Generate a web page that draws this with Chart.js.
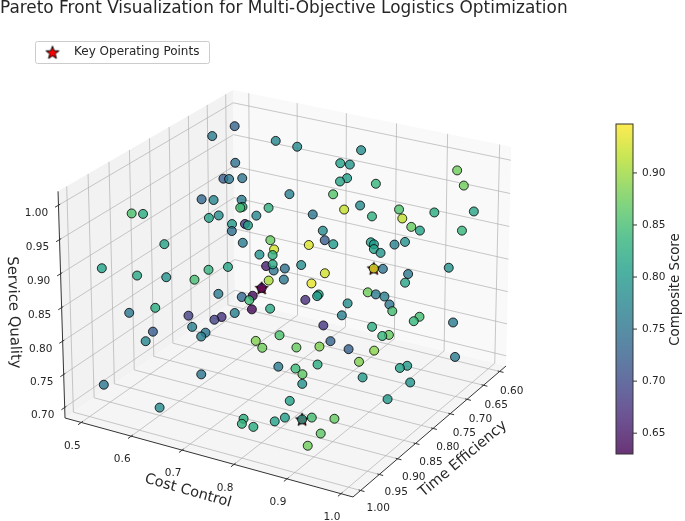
<!DOCTYPE html>
<html>
<head>
<meta charset="utf-8">
<style>html,body{margin:0;padding:0;background:#fff}canvas{display:block}</style>
<script src="https://cdn.jsdelivr.net/npm/chart.js@4"></script>
</head>
<body>
<canvas id="c" width="685" height="521"></canvas>
<script>
const timeEff = [.639,.694,.644,.646,.697,.743,.732,.714,.721,.809,.791,.745,.756,.758,.749,.939,.925,.824,.804,.763,.793,.780,.780,.804,.798,.793,.899,.798,.798,.798,.798,.798,.798,.798,.798,.976,.815,.842,.934,.897,.859,.798,.798,.829,.798,.798,.798,.811,.804,.822,.833,.840,.867,.743,.727,.763,.776,.778,.787,.798,.798,.798,.798,.798,.798,.798,.809,.628,.657,.657,.679,.686,.677,.628,.642,.708,.714,.708,.727,.683,.626,.721,.716,.703,.642,.765,.765,.765,.758,.738,.723,.661,.754,.719,.723,.774,.763,.752,.739,.741,.701,.710,.653,.767,.747,.760,.829,.835,.851,.842,.793,.835,.661,.868,.881,.886,.758,.776,.851,.776,.899,.837,.925,.939,.934,.956,.976,.912,.943,.868,.864,.914,.925,.868,.857,.864,.840,.884,.921,.976,.978,.965,.972,.972,.956,.950,.765,.945,.798];
const costCtl = [.515,.511,.603,.648,.560,.571,.574,.587,.687,.578,.588,.609,.619,.616,.666,.543,.554,.604,.608,.652,.626,.642,.648,.634,.651,.702,.574,.713,.684,.710,.697,.712,.710,.734,.766,.512,.634,.616,.547,.575,.601,.702,.732,.625,.648,.670,.663,.678,.709,.652,.634,.625,.628,.749,.799,.783,.796,.814,.773,.812,.786,.800,.797,.774,.856,.845,.817,.763,.742,.761,.771,.762,.826,.950,.972,.764,.821,.892,.853,.943,.982,.907,.921,.929,.970,.877,.883,.883,.891,.904,.914,.958,.893,.918,.915,.878,.886,.895,.896,.903,.929,.924,.963,.882,.901,.897,.845,.884,.795,.833,.904,.904,.973,.848,.815,.832,.944,.942,.922,.962,.841,.960,.836,.888,.927,.917,.907,.564,.537,.595,.599,.560,.554,.620,.720,.738,.754,.784,.661,.510,.623,.777,.779,.801,.830,.845,.883,.874,.688];
const serviceQ = [.991,.994,.984,.983,.962,.956,.952,.949,.944,.950,.944,.931,.926,.925,.930,.971,.967,.932,.929,.921,.915,.913,.912,.910,.893,.904,.916,.894,.881,.885,.866,.862,.871,.869,.880,.899,.860,.863,.878,.866,.852,.845,.852,.823,.810,.816,.808,.802,.806,.796,.791,.788,.780,.932,.942,.921,.914,.912,.907,.876,.856,.842,.839,.829,.839,.819,.803,.990,.977,.978,.967,.963,.967,.990,.976,.952,.947,.951,.941,.946,.933,.945,.933,.924,.908,.921,.919,.912,.905,.912,.912,.857,.880,.863,.851,.850,.844,.838,.821,.813,.793,.789,.771,.796,.779,.782,.793,.791,.783,.788,.775,.776,.723,.775,.768,.765,.745,.749,.763,.731,.758,.732,.743,.735,.739,.725,.714,.824,.824,.800,.782,.788,.777,.773,.781,.777,.789,.766,.746,.724,.713,.722,.718,.718,.725,.731,.883,.732,.831];
const score = [.73,.76,.775,.78,.745,.72,.755,.75,.77,.735,.775,.76,.82,.85,.83,.855,.825,.81,.785,.775,.80,.68,.81,.745,.76,.87,.815,.925,.79,.83,.655,.75,.82,.745,.785,.81,.815,.835,.82,.79,.85,.905,.755,.76,.735,.64,.845,.635,.82,.77,.675,.69,.755,.755,.92,.78,.72,.80,.93,.925,.935,.82,.80,.67,.785,.77,.68,.785,.81,.795,.805,.815,.84,.875,.875,.86,.78,.855,.83,.825,.815,.915,.87,.81,.84,.805,.80,.81,.795,.77,.79,.79,.75,.755,.815,.875,.76,.765,.75,.85,.85,.84,.76,.825,.87,.84,.73,.725,.87,.885,.89,.885,.76,.825,.845,.865,.80,.81,.80,.795,.79,.80,.81,.85,.87,.865,.875,.825,.755,.69,.77,.72,.775,.765,.885,.875,.855,.76,.755,.755,.78,.83,.835,.825,.81,.805,.92,.80,.64];
const keyPoints = [146,147,148];

const timeTicks = [0.60,0.65,0.70,0.75,0.80,0.85,0.90,0.95,1.00];
const costTicks = [0.5,0.6,0.7,0.8,0.9,1.0];
const serviceTicks = [0.70,0.75,0.80,0.85,0.90,0.95,1.00];
const colorTicks = [0.65,0.70,0.75,0.80,0.85,0.90];

const timeLim = [0.58,1.02], costLim = [0.467,1.022], serviceLim = [0.684,1.02], colorLim = [0.63,0.947];

// box corners on the page and their perspective weights
const O=[235,300], A=[65,418], B=[506,366], C=[233,90], wa=.9154, wb=.9518, wc=.975;

function project(t,c,s){
  const u=(t-timeLim[0])/(timeLim[1]-timeLim[0]), v=(c-costLim[0])/(costLim[1]-costLim[0]), n=(s-serviceLim[0])/(serviceLim[1]-serviceLim[0]);
  const w=1+u*(wa-1)+v*(wb-1)+n*(wc-1);
  return [0,1].map(i=>(O[i]+u*(wa*A[i]-O[i])+v*(wb*B[i]-O[i])+n*(wc*C[i]-O[i]))/w);
}
const viridis=[[68,1,84],[72,40,120],[62,74,137],[49,104,142],[38,130,142],[31,158,137],[53,183,121],[109,205,89],[180,222,44],[253,231,37]];
function viridisAt(f,a){
  f=Math.max(0,Math.min(1,f))*(viridis.length-1);
  const i=Math.min(Math.floor(f),viridis.length-2),k=f-i;
  const col=viridis[i].map((v,j)=>Math.round(v+(viridis[i+1][j]-v)*k));
  return `rgba(${col[0]},${col[1]},${col[2]},${a})`;
}
const scoreColor=v=>viridisAt((v-colorLim[0])/(colorLim[1]-colorLim[0]),0.8);

function makeStar(){
  const cv=document.createElement('canvas');cv.width=cv.height=18;
  const g=cv.getContext('2d');g.beginPath();
  for(let i=0;i<10;i++){const r=i%2?2.8:6.8,an=-Math.PI/2+i*Math.PI/5;g.lineTo(9+r*Math.cos(an),9.5+r*Math.sin(an));}
  g.closePath();g.fillStyle='#f00';g.fill();g.strokeStyle='#000';g.lineWidth=1;g.stroke();
  return cv;
}
const star=makeStar();
const toPoint=i=>{const p=project(timeEff[i],costCtl[i],serviceQ[i]);return {x:p[0],y:p[1]};};

const frame={id:'frame',beforeDatasetsDraw(chart){
  const g=chart.ctx, S=(t,c,s)=>{const p=project(t,c,s);return [chart.scales.x.getPixelForValue(p[0]),chart.scales.y.getPixelForValue(p[1])];};
  const [t0,t1]=timeLim,[c0,c1]=costLim,[s0,s1]=serviceLim;
  const poly=(pts,fill)=>{g.beginPath();pts.forEach(p=>g.lineTo(p[0],p[1]));g.closePath();g.fillStyle=fill;g.fill();};
  const line=(a,b,col,w)=>{g.beginPath();g.moveTo(a[0],a[1]);g.lineTo(b[0],b[1]);g.strokeStyle=col;g.lineWidth=w;g.stroke();};
  poly([S(t1,c0,s0),S(t0,c0,s0),S(t0,c0,s1),S(t1,c0,s1)],'#f2f2f2');
  poly([S(t0,c0,s0),S(t0,c1,s0),S(t0,c1,s1),S(t0,c0,s1)],'#f9f9f9');
  poly([S(t1,c0,s0),S(t0,c0,s0),S(t0,c1,s0),S(t1,c1,s0)],'#f5f5f5');
  const grid='rgba(176,176,176,.7)';
  timeTicks.forEach(t=>{line(S(t,c0,s0),S(t,c0,s1),grid,1);line(S(t,c0,s0),S(t,c1,s0),grid,1);});
  costTicks.forEach(c=>{line(S(t0,c,s0),S(t0,c,s1),grid,1);line(S(t0,c,s0),S(t1,c,s0),grid,1);});
  serviceTicks.forEach(s=>{line(S(t1,c0,s),S(t0,c0,s),grid,1);line(S(t0,c0,s),S(t0,c1,s),grid,1);});
  const ax='#333';
  line(S(t1,c0,s0),S(t1,c0,s1),ax,1);line(S(t1,c0,s0),S(t1,c1,s0),ax,1);line(S(t1,c1,s0),S(t0,c1,s0),ax,1);
  const tick=(p,q,o,i)=>{const d=Math.hypot(q[0]-p[0],q[1]-p[1]),x=(q[0]-p[0])/d,y=(q[1]-p[1])/d;line([p[0]-x*o,p[1]-y*o],[p[0]+x*i,p[1]+y*i],ax,1);};
  g.fillStyle='#262626';g.textAlign='center';g.textBaseline='middle';g.font='10.5px "DejaVu Sans"';
  costTicks.forEach(c=>{const p=S(t1,c,s0);tick(p,S(t0,c,s0),4,2);g.fillText(c.toFixed(1),p[0]-9,p[1]+23.5);});
  timeTicks.forEach(t=>{const p=S(t,c1,s0);tick(p,S(t,c0,s0),4,2);g.fillText(t.toFixed(2),p[0]+12+(t-.6)*14,p[1]+20-(t-.6)*5.7);});
  serviceTicks.forEach(s=>{const p=S(t1,c0,s);tick(p,S(t0,c0,s),4,2);g.fillText(s.toFixed(2),p[0]-22,p[1]+8);});
  const rot=(txt,x,y,deg,font)=>{g.save();g.translate(x,y);g.rotate(deg*Math.PI/180);g.font=font;g.fillText(txt,0,0);g.restore();};
  rot('Cost Control',188,491,16,'14.5px "DejaVu Sans"');
  rot('Time Efficiency',463,459,-40,'14.5px "DejaVu Sans"');
  rot('Service Quality',13.5,312.5,88,'14.8px "DejaVu Sans"');
  // legend
  g.beginPath();g.roundRect(35.5,41.5,174,22,2);g.fillStyle='#fff';g.fill();g.strokeStyle='#ccc';g.lineWidth=1;g.stroke();
  g.drawImage(star,43.5,43.5);
  g.textAlign='left';g.fillStyle='#262626';g.font='12px "DejaVu Sans"';g.fillText('Key Operating Points',74,52);
  // colour bar
  const yOf=v=>454-(v-colorLim[0])/(colorLim[1]-colorLim[0])*330;
  const grad=g.createLinearGradient(0,454,0,124);
  for(let i=0;i<=20;i++)grad.addColorStop(i/20,viridisAt(i/20,.8));
  g.fillStyle=grad;g.fillRect(616,124,17,330);
  g.strokeStyle='#333';g.lineWidth=1;g.strokeRect(616,124,17,330);
  g.fillStyle='#262626';g.font='10.5px "DejaVu Sans"';
  colorTicks.forEach(v=>{line([633,yOf(v)],[637,yOf(v)],'#333',1);g.fillText(v.toFixed(2),642,yOf(v));});
  g.textAlign='center';rot('Composite Score',675.5,289.5,-90,'13.3px "DejaVu Sans"');
}};

new Chart(document.getElementById('c'),{
  type:'scatter',
  data:{datasets:[
    {data:timeEff.map((_,i)=>toPoint(i)),pointBackgroundColor:score.map(scoreColor),pointBorderColor:'rgba(0,0,0,.8)',pointBorderWidth:1,pointRadius:4.5},
    {data:keyPoints.map(toPoint),pointStyle:star,pointRadius:9}
  ]},
  options:{responsive:false,animation:false,events:[],
    layout:{padding:0,autoPadding:false},
    scales:{x:{display:false,min:0,max:685},y:{display:false,reverse:true,min:16.9,max:521}},
    plugins:{legend:{display:false},tooltip:{enabled:false},
      title:{display:true,text:'Pareto Front Visualization for Multi-Objective Logistics Optimization',align:'start',color:'#262626',padding:0,font:{family:'DejaVu Sans',size:16.9,weight:'normal',lineHeight:1}}}
  },
  plugins:[frame]
});
</script>
</body>
</html>
